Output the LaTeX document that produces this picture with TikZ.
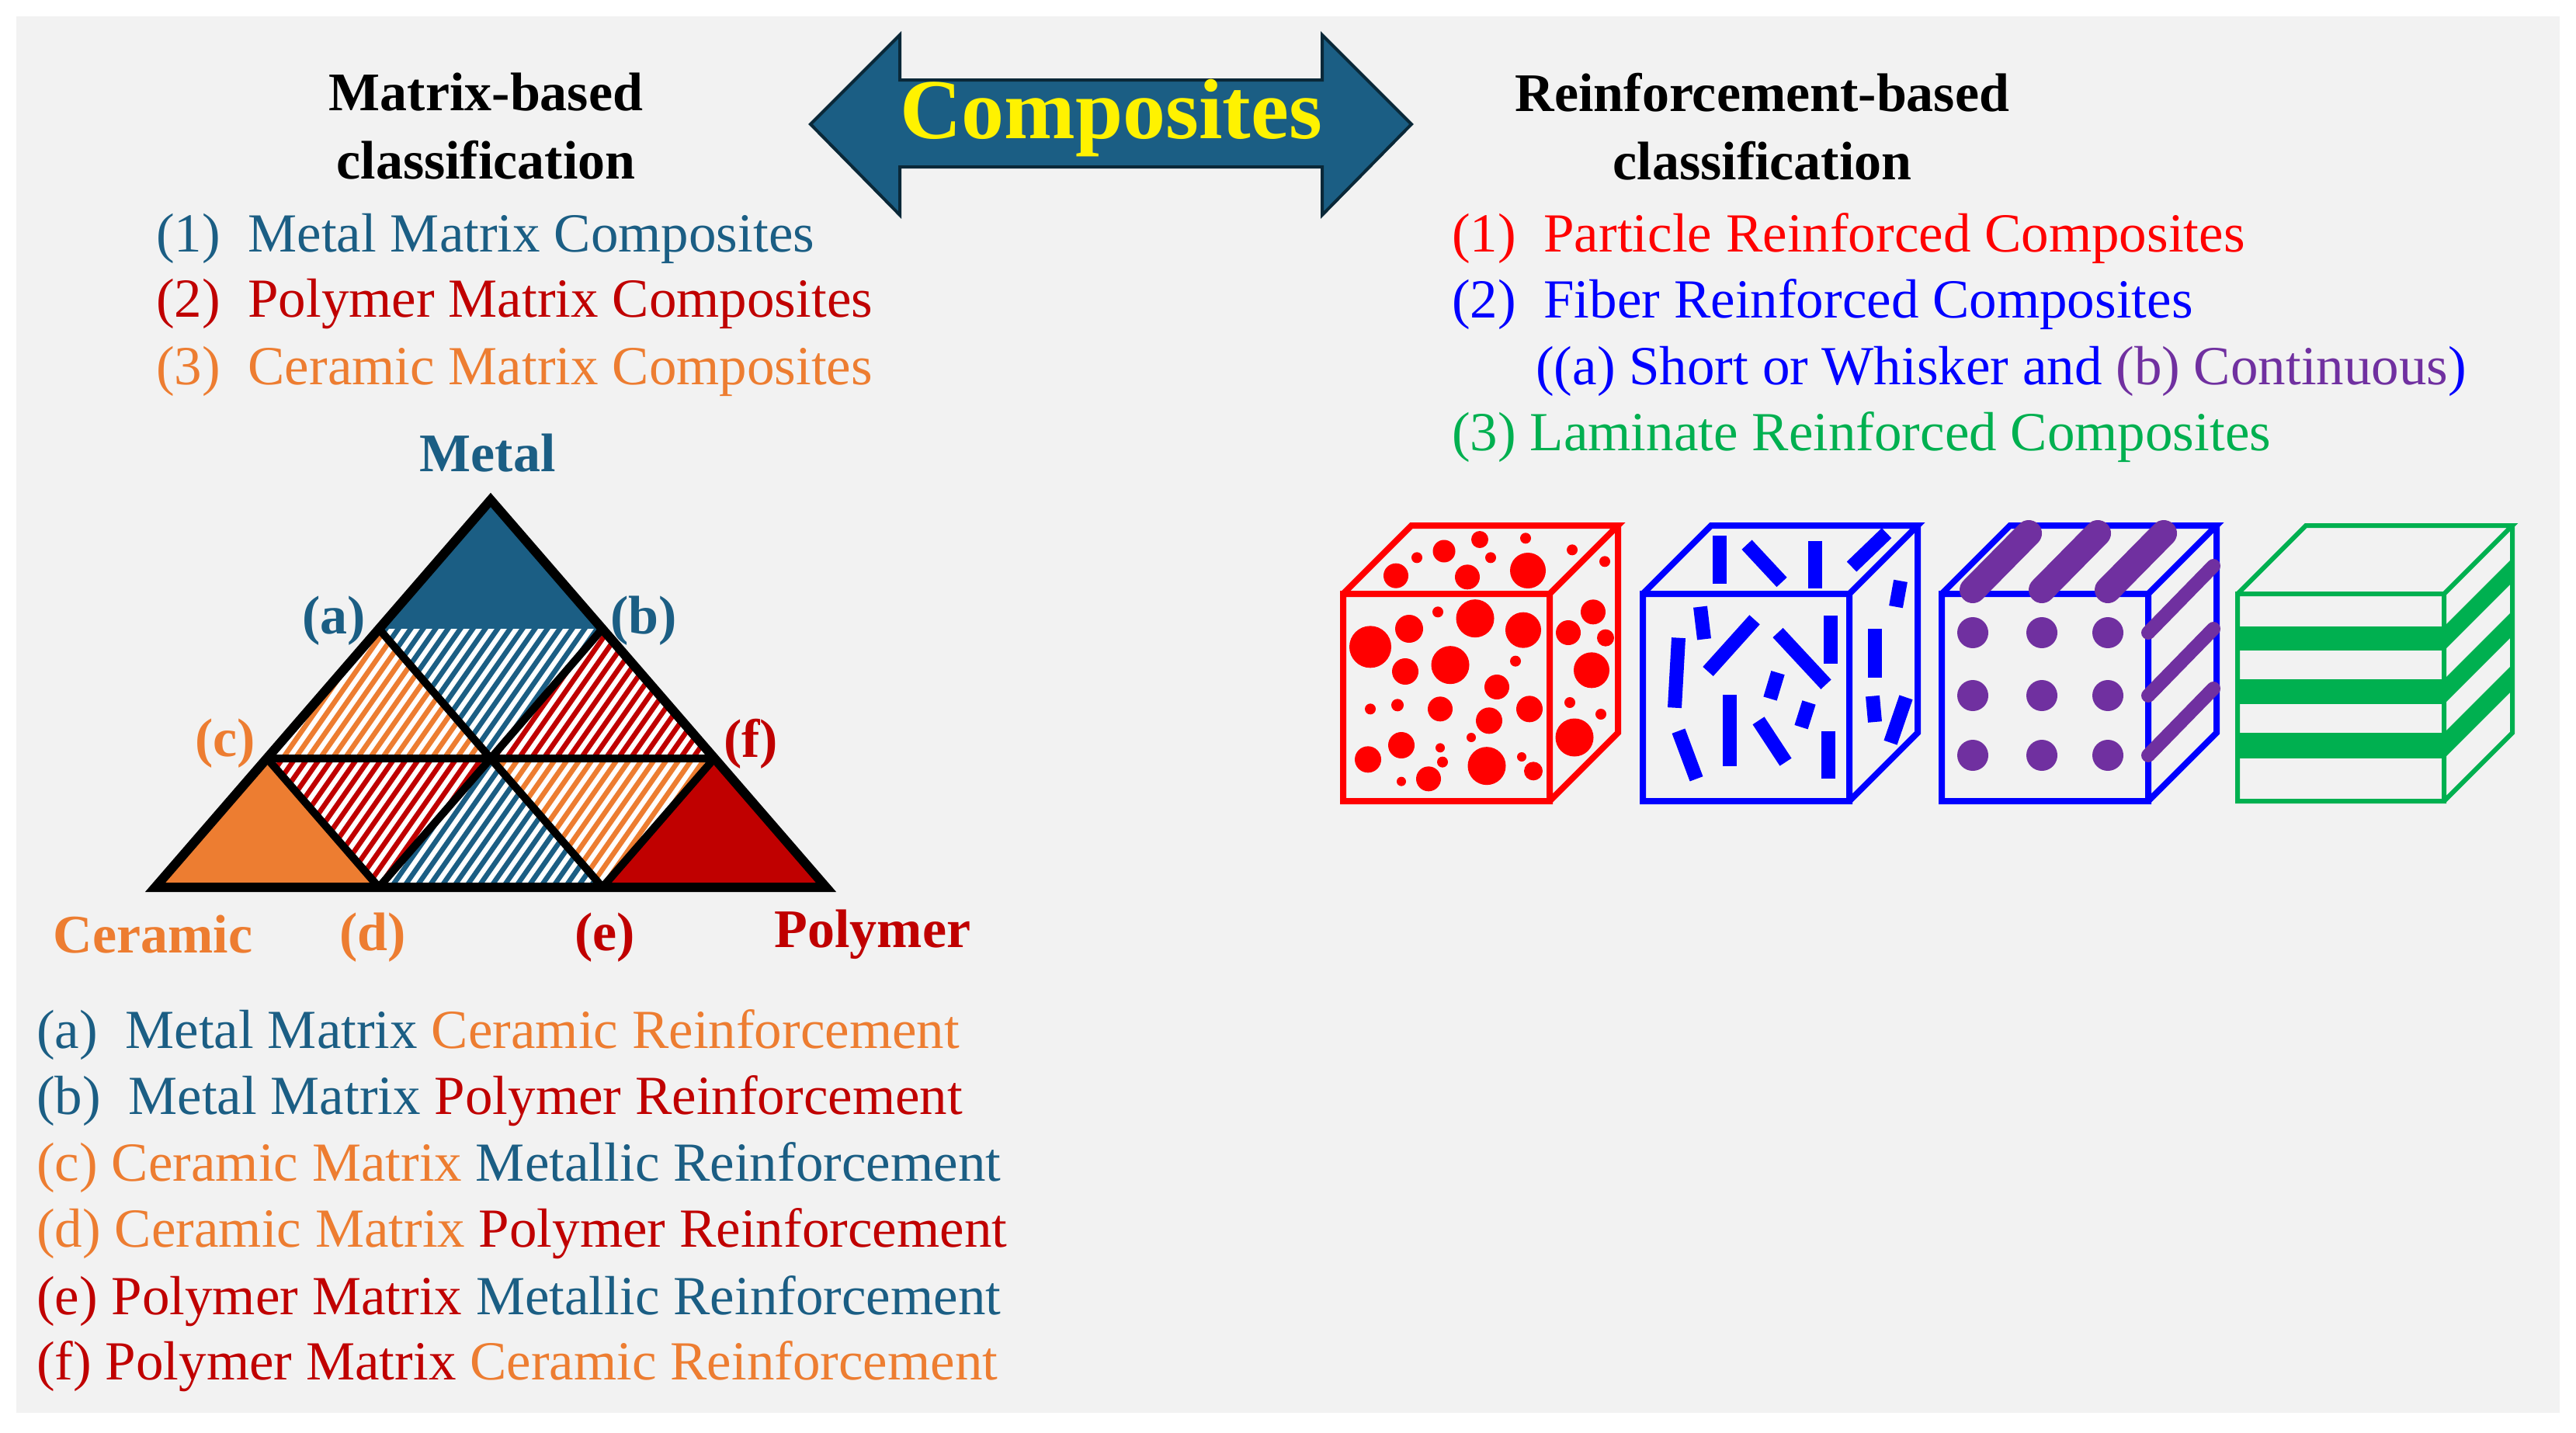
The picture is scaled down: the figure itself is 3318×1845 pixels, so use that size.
\documentclass[tikz,border=0pt]{standalone}
\usepackage{fontspec}
\setmainfont{Liberation Serif}
\definecolor{mblue}{HTML}{1B5E84}
\definecolor{morange}{HTML}{ED7D31}
\definecolor{mred}{HTML}{C00000}
\definecolor{bgray}{HTML}{F2F2F2}
\definecolor{fred}{HTML}{FF0000}
\definecolor{fblue}{HTML}{0000FF}
\definecolor{fpurple}{HTML}{7030A0}
\definecolor{fgreen}{HTML}{00B050}
\newcommand\hatchreg[2]{%
  \begin{scope}
    \clip #2;
    \fill[white] #2;
    \foreach \hx in {-400,-384,...,1100} \draw[#1, line width=6.5pt] (\hx,1200) -- ++(420,-600);
  \end{scope}}
\newcommand\cubeline[2]{%
  \draw[#2, line width=8pt, line join=miter] (#1,765) rectangle ++(266,267)
    (#1,765) -- ++(88,-88) -- ++(266,0) -- ++(-88,88)
    (#1+354,677) -- ++(0,267) -- ++(-88,88);}
\begin{document}
\begin{tikzpicture}[x=1pt,y=-1pt,
  txt/.style={inner sep=0pt, anchor=west, font=\fontsize{71}{84}\selectfont},
  hd/.style={inner sep=0pt, align=center, font=\fontsize{70}{88}\selectfont\bfseries},
  lab/.style={inner sep=0pt, font=\fontsize{70}{84}\selectfont\bfseries},
  edge/.style={line width=10pt, line cap=round, line join=round}]
\useasboundingbox (0,0) rectangle (3318,1845);
\fill[white] (0,0) rectangle (3318,1845);
\fill[bgray] (21,21) rectangle (3297,1820);

% arrow
\draw[fill=mblue, draw={rgb,255:red,10;green,40;blue,56}, line width=4pt, line join=miter]
  (1044,160) -- (1159,45) -- (1159,103) -- (1703,103) -- (1703,45) -- (1818,160)
  -- (1703,277) -- (1703,215) -- (1159,215) -- (1159,277) -- cycle;
\node[inner sep=0pt, text=yellow, font=\fontsize{110}{120}\selectfont\bfseries] (comp) at (1431,152) {Composites};

% headings
\node[hd] (lh) at (626,163) {Matrix-based\\classification};
\node[hd] (rh) at (2270,163) {Reinforcement-based\\classification};

% left list
\node[txt, text=mblue] (l1) at (201,307) {(1)\enspace Metal Matrix Composites};
\node[txt, text=mred] (l2) at (201,392) {(2)\enspace Polymer Matrix Composites};
\node[txt, text=morange] (l3) at (201,478) {(3)\enspace Ceramic Matrix Composites};

% right list
\node[txt, text=fred] (r1) at (1870,307) {(1)\enspace Particle Reinforced Composites};
\node[txt, text=fblue] (r2) at (1870,392) {(2)\enspace Fiber Reinforced Composites};
\node[txt, text=fblue] (r3) at (1978,478) {((a) Short or Whisker and \textcolor{fpurple}{(b) Continuous})};
\node[txt, text=fgreen] (r4) at (1870,563) {(3)\ Laminate Reinforced Composites};

% triangle
\coordinate (T) at (632,644);
\coordinate (BL) at (200,1143);
\coordinate (BR) at (1064,1143);
\coordinate (a) at (488,810);
\coordinate (b) at (776,810);
\coordinate (c) at (344,977);
\coordinate (m) at (632,977);
\coordinate (f) at (920,977);
\coordinate (d) at (488,1143);
\coordinate (e) at (776,1143);
\fill[mblue] (T) -- (a) -- (b) -- cycle;
\fill[morange] (c) -- (BL) -- (d) -- cycle;
\fill[mred] (f) -- (e) -- (BR) -- cycle;
\hatchreg{mblue}{(a) -- (b) -- (m) -- cycle}
\hatchreg{morange}{(a) -- (c) -- (m) -- cycle}
\hatchreg{mred}{(b) -- (m) -- (f) -- cycle}
\hatchreg{mred}{(c) -- (m) -- (d) -- cycle}
\hatchreg{mblue}{(m) -- (d) -- (e) -- cycle}
\hatchreg{morange}{(m) -- (f) -- (e) -- cycle}
\draw[edge] (a) -- (m) (b) -- (m) (c) -- (f) (c) -- (d) (m) -- (d) (m) -- (e) (f) -- (e);
\draw[edge, line width=12pt, line join=miter] (T) -- (BL) -- (BR) -- cycle;

\node[lab, text=mblue] (metal) at (628,584) {Metal};
\node[lab, text=mblue] (la) at (430,800) {(a)};
\node[lab, text=mblue] (lb) at (829,800) {(b)};
\node[lab, text=morange] (lc) at (290,958) {(c)};
\node[lab, text=mred] (lf) at (967,958) {(f)};
\node[lab, text=morange] (cer) at (197,1204) {Ceramic};
\node[lab, text=morange] (ld) at (480,1208) {(d)};
\node[lab, text=mred] (le) at (779,1208) {(e)};
\node[lab, text=mred] (pol) at (1124,1204) {Polymer};

% bottom list
\node[txt, text=mblue] (ba) at (47,1333) {(a)\enspace Metal Matrix \textcolor{morange}{Ceramic Reinforcement}};
\node[txt, text=mblue] (bb) at (47,1418) {(b)\enspace Metal Matrix \textcolor{mred}{Polymer Reinforcement}};
\node[txt, text=morange] (bc) at (47,1504) {(c) Ceramic Matrix \textcolor{mblue}{Metallic Reinforcement}};
\node[txt, text=morange] (bd) at (47,1589) {(d) Ceramic Matrix \textcolor{mred}{Polymer Reinforcement}};
\node[txt, text=mred] (be) at (47,1676) {(e) Polymer Matrix \textcolor{mblue}{Metallic Reinforcement}};
\node[txt, text=mred] (bf) at (47,1760) {(f) Polymer Matrix \textcolor{morange}{Ceramic Reinforcement}};

% cube 1: particles
\begin{scope}[shift={(1700,650)}]
\foreach \zx/\zy/\zw in {65/550/50,115/480/32,110/645/30,200/440/45,262/485/42,168/620/45,228/705/28,155/790/28,270/790/30,218/835/30,100/775/12,65/790/10,152/415/10,252/605/10,105/930/30,62/985/30,140/1060/28,215/1010/45,275/1030/20,155/940/8,158/995/10,105/1070/8,260/975/8,195/900/8,352/415/28,320/495/28,368/515/18,350/640/42,322/765/10,362/810/10,328/900/45,98/275/28,160/180/25,206/135/18,265/130/10,125/205/10,220/205/10,190/280/28,268/255/42,325/175/10,367/220/10}
  \fill[fred] (\zx,\zy/3) circle (\zw/2+2);
% cube 2: short fibres
\foreach \xa/\ya/\xb/\yb in {515/120/515/305,550/155/595/300,638/140/638/325,730/110/685/240,748/295/742/395,490/395/495/520,462/515/457/785,560/445/500/645,590/495/652/695,658/430/658/615,590/650/580/750,528/735/528/1010,630/765/620/860,462/875/485/1060,565/835/600/995,655/875/655/1060,715/480/715/670,712/740/715/840,755/745/735/920}
  \draw[fblue, line width=18pt] (\xa,\ya/3) -- (\xb,\yb/3);
\end{scope}
\cubeline{1730}{fred}
\cubeline{2116}{fblue}

% cube 3: continuous fibres
\foreach \px in {2541,2630,2715} \foreach \py in {815,896,973}
  \fill[fpurple] (\px,\py) circle (20);
\cubeline{2501}{fblue}
\foreach \px in {2541,2630,2715}
  \draw[fpurple, line width=34pt, line cap=round] (\px,760) -- ++(72,-73);
\foreach \py in {815,896,973}
  \draw[fpurple, line width=18pt, line cap=round] (2767,\py) -- ++(84,-86);

% cube 4: laminate
\foreach \ya/\yb in {807/838,875/907,944/977} {
  \fill[fgreen] (2882,\ya) rectangle (3148,\yb);
  \fill[fgreen] (3148,\ya) -- ++(88,-88) -- (3236,\yb-88) -- (3148,\yb) -- cycle;
}
\draw[fgreen, line width=6pt, line join=miter] (2882,765) rectangle ++(266,267)
    (2882,765) -- ++(88,-88) -- ++(266,0) -- ++(-88,88)
    (3236,677) -- ++(0,267) -- ++(-88,88);
\end{tikzpicture}
\end{document}
